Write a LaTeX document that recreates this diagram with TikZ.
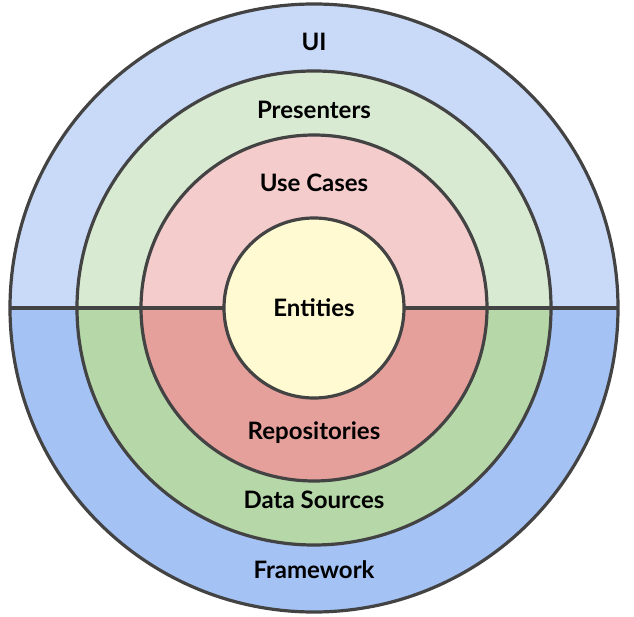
\documentclass[tikz,border=0pt]{standalone}
\usepackage{fontspec}
\setmainfont{Lato}
\definecolor{uiT}{HTML}{C9DAF8}\definecolor{uiB}{HTML}{A4C2F4}
\definecolor{prT}{HTML}{D9EAD3}\definecolor{prB}{HTML}{B6D7A8}
\definecolor{ucT}{HTML}{F4CCCC}\definecolor{ucB}{HTML}{E6A09C}
\definecolor{enC}{HTML}{FFFAD2}\definecolor{edge}{HTML}{434343}
\begin{document}
\begin{tikzpicture}[x=1pt,y=-1pt,
  ring/.style={draw=edge,line width=3.2pt},
  lbl/.style={font=\fontsize{24}{28}\selectfont\bfseries,text=black}]
\useasboundingbox (0,0) rectangle (634,617);
\coordinate (c) at (314,308);
\foreach \r/\t/\b in {304/uiT/uiB,237/prT/prB,173/ucT/ucB}{
  \fill[\b] (c) ++(-\r,0) arc[start angle=180,end angle=0,radius=\r] -- cycle;
  \fill[\t] (c) ++(-\r,0) arc[start angle=180,end angle=360,radius=\r] -- cycle;
}
\coordinate (hl) at (10,308);
\coordinate (hr) at (618,308);
\draw[ring] (hl) -- (hr);
\foreach \r in {304,237,173}{\draw[ring] (c) circle[radius=\r];}
\node[ring,circle,fill=enC,minimum size=180pt,inner sep=0pt] (ent) at (c) {};
\node[lbl] (ui) at (314,42) {UI};
\node[lbl] (pres) at (314,110) {Presenters};
\node[lbl] (uc) at (314,183) {Use Cases};
\node[lbl] (en) at (314,308) {Entities};
\node[lbl] (rep) at (314,433) {Repositories};
\node[lbl] (ds) at (314,500) {Data Sources};
\node[lbl] (fw) at (314,570) {Framework};
\end{tikzpicture}
\end{document}
